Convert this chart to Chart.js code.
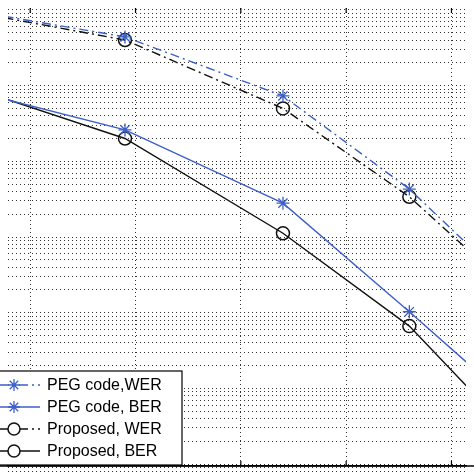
<!DOCTYPE html>
<html><head><meta charset="utf-8">
<script src="https://cdn.jsdelivr.net/npm/chart.js@4"></script>
<style>html,body{margin:0;padding:0;background:#fff}#c{display:block}</style>
</head><body>
<div style="width:474px;height:474px"><canvas id="c" width="474" height="474"></canvas></div>
<script>
const xValues = [-0.6, 0.9, 2.4, 3.6, 4.75];
const pegWER = [1.0, 0.44, 0.073, 0.0043, 0.00013];
const pegBER = [0.089, 0.026, 0.0028, 0.000103, 0.0000040];
const propWER = [0.97, 0.40, 0.050, 0.0034, 0.00012];
const propBER = [0.098, 0.020, 0.00112, 0.0000666, 0.0000014];
const xTicks = [0, 1, 2, 3, 4];
const legendLabels = ['PEG code,WER', 'PEG code, BER', 'Proposed, WER', 'Proposed, BER'];

const BLUE = '#3c5fc8', BLACK = '#111';
function pts(ys){ return ys.map((y,i)=>({x:xValues[i], y})); }
const styles = [
  {c:BLUE, dash:[9,4,2,4], ps:'star', bw:1.3},
  {c:BLUE, dash:[], ps:'star', bw:1.3},
  {c:BLACK, dash:[9,4,2,4], ps:'circle', bw:1.5},
  {c:BLACK, dash:[], ps:'circle', bw:1.5}
];
const series = [pegWER, pegBER, propWER, propBER];
const datasets = series.map((s,i)=>({
  label: legendLabels[i], data: pts(s), borderColor: styles[i].c, borderWidth: 1.4,
  borderDash: styles[i].dash, pointStyle: styles[i].ps, pointRadius: 6.5,
  pointBorderColor: styles[i].c, pointBorderWidth: styles[i].bw,
  pointBackgroundColor: 'rgba(0,0,0,0)', fill:false, tension:0
}));

const legendPlugin = {
  id:'customLegend',
  afterDraw(chart){
    const ctx = chart.ctx;
    ctx.save();
    ctx.fillStyle='#fff'; ctx.fillRect(-2,371,184,94);
    ctx.strokeStyle='#000'; ctx.lineWidth=1.2; ctx.setLineDash([]);
    ctx.strokeRect(-2,371,184,94);
    ctx.font='16px "Liberation Sans", Arial, sans-serif';
    ctx.textBaseline='middle';
    const ys=[385,407,429,451];
    ys.forEach((y,i)=>{
      const st=styles[i];
      ctx.strokeStyle=st.c; ctx.lineWidth=1.3; ctx.setLineDash(st.dash);
      ctx.beginPath(); ctx.moveTo(0,y); ctx.lineTo(40,y); ctx.stroke();
      ctx.setLineDash([]);
      ctx.fillStyle='#fff';
      ctx.strokeStyle=st.c; ctx.lineWidth=st.bw;
      Chart.helpers.drawPoint(ctx,{pointStyle:st.ps, radius:6, borderWidth:st.bw}, 14, y);
      ctx.fillStyle='#000';
      ctx.fillText(legendLabels[i],47,y+1);
    });
    ctx.restore();
  }
};

const tickMarks = {
  id:'tickMarks',
  afterDatasetsDraw(chart){
    const ctx=chart.ctx, xs=chart.scales.x, a=chart.chartArea;
    ctx.save(); ctx.strokeStyle='#000'; ctx.lineWidth=1.2; ctx.setLineDash([]);
    xTicks.forEach(v=>{ const px=xs.getPixelForValue(v);
      ctx.beginPath(); ctx.moveTo(px,a.top); ctx.lineTo(px,a.top+5);
      ctx.moveTo(px,a.bottom); ctx.lineTo(px,a.bottom-5); ctx.stroke(); });
    ctx.restore();
  }
};

const logTicks=[];
for(let e=-7;e<=0;e++) for(let m=1;m<=9;m++){ const v=m*Math.pow(10,e); if(v<=1.0001) logTicks.push(v); }

new Chart(document.getElementById('c'),{
  type:'line',
  data:{datasets},
  options:{
    responsive:false, animation:false, events:[],
    layout:{padding:0},
    plugins:{legend:{display:false}, tooltip:{enabled:false}},
    scales:{
      x:{type:'linear', min:-0.211, max:4.138,
        afterBuildTicks(s){ s.ticks = xTicks.map(v=>({value:v})); },
        afterFit(s){ s.height=0; s.paddingLeft=0; s.paddingRight=0; },
        ticks:{display:false, padding:0},
        grid:{color:'#333', lineWidth:1, drawTicks:false},
        border:{display:true, color:'#000', width:1.5, dash:[1,3]}
      },
      y:{type:'logarithmic', min:Math.pow(10,-6.025), max:Math.pow(10,0.025),
        afterBuildTicks(s){ s.ticks = logTicks.map(v=>({value:v})); },
        afterFit(s){ s.width=0; s.paddingTop=0; s.paddingBottom=0; },
        ticks:{display:false, padding:0},
        grid:{color:'#333', lineWidth:1, drawTicks:false},
        border:{display:false, dash:[1,3]}
      }
    }
  },
  plugins:[legendPlugin, tickMarks, {
    id:'bottomLine',
    afterDatasetsDraw(chart){ const ctx=chart.ctx,a=chart.chartArea; ctx.save(); ctx.setLineDash([]);
      ctx.strokeStyle='#000'; ctx.lineWidth=1.5; ctx.beginPath(); ctx.moveTo(0,a.bottom); ctx.lineTo(474,a.bottom); ctx.stroke(); ctx.restore(); }
  }]
});
</script>
</body></html>
